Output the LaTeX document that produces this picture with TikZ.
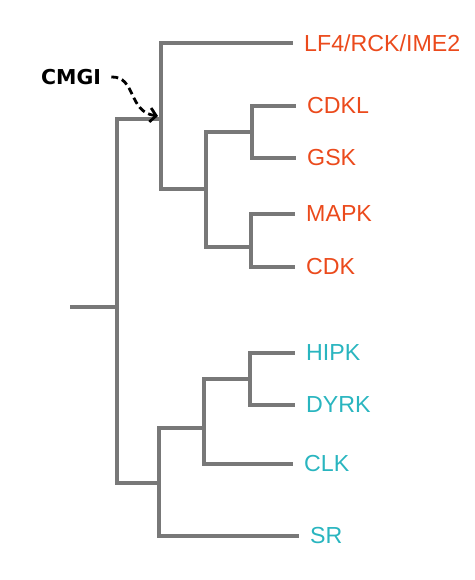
\documentclass[tikz,border=0pt]{standalone}
\usepackage{fontspec}
\setmainfont{Liberation Sans}
\newfontfamily\cmgifont{DejaVu Sans}
\usepackage{tikz}
\usetikzlibrary{arrows.meta, positioning}
\definecolor{branchgray}{rgb}{0.47, 0.47, 0.47}
\definecolor{cmgcolor}{rgb}{0.92, 0.29, 0.11}
\definecolor{othercolor}{rgb}{0.16, 0.71, 0.75}

\begin{document}
\begin{tikzpicture}[x=1pt, y=-1pt,
		branch/.style={draw=branchgray, line width=3.1pt},
		leaf/.style={anchor=west, inner xsep=11pt, inner ysep=0pt, font=\fontsize{23.2}{25}\selectfont},
		cmgleaf/.style={leaf, text=cmgcolor},
		otherleaf/.style={leaf, text=othercolor}]
		  \useasboundingbox (0,0) rectangle (474,580);

		  % inner nodes of the tree
		  \coordinate (stub) at (70,307);
		  \coordinate (root) at (117,307);
		  \coordinate (cmgi) at (161,119);
		  \coordinate (cmgii) at (206,189);
		  \coordinate (cdklgsk) at (252,132);
		  \coordinate (mapkcdk) at (251,247);
		  \coordinate (cmgiii) at (159,483);
		  \coordinate (cmgiv) at (204,428);
		  \coordinate (hipkdyrk) at (250,379);

		  % leaves
		  \node [cmgleaf] (lf4) at (293,43) {LF4/RCK/IME2};
		  \node [cmgleaf] (cdkl) at (296,106) {CDKL};
		  \node [cmgleaf] (gsk) at (296,158) {GSK};
		  \node [cmgleaf] (mapk) at (295,214) {MAPK};
		  \node [cmgleaf] (cdk) at (295,267) {CDK};
		  \node [otherleaf] (hipk) at (295,353) {HIPK};
		  \node [otherleaf] (dyrk) at (295,405) {DYRK};
		  \node [otherleaf] (clk) at (293,464) {CLK};
		  \node [otherleaf] (sr) at (299,536) {SR};

		  % draws the branches
		  \draw[branch] (stub) -- (root);
		  \foreach \from/\to in {root/cmgi, root/cmgiii, cmgi/lf4.west, cmgi/cmgii,
		      cmgii/cdklgsk, cmgii/mapkcdk, cdklgsk/cdkl.west, cdklgsk/gsk.west,
		      mapkcdk/mapk.west, mapkcdk/cdk.west, cmgiii/cmgiv, cmgiii/sr.west,
		      cmgiv/hipkdyrk, cmgiv/clk.west, hipkdyrk/hipk.west, hipkdyrk/dyrk.west}
		    \draw[branch] (\from) |- (\to);

		  % the CMGI label
		  \node [anchor=west, inner sep=0pt, font=\cmgifont\fontsize{20.5}{22}\selectfont\bfseries] (cmgilabel) at (41,77) {CMGI};
		  \coordinate (cmgitip) at (158,116);
		  \draw[line width=2.8pt, dash pattern=on 7pt off 4pt, -{Straight Barb[length=6pt, width=14pt, line width=2.8pt]}]
		    ([xshift=10pt]cmgilabel.east) .. controls (136,76) and (128,112) .. (cmgitip);
	  \end{tikzpicture}
\end{document}
